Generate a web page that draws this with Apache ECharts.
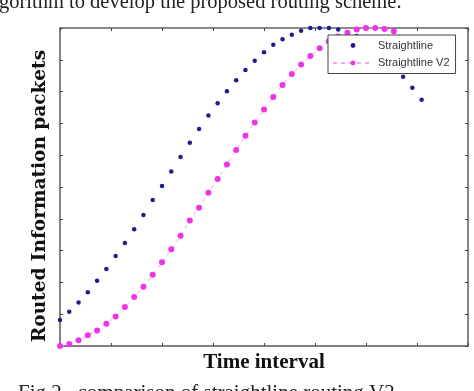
<!DOCTYPE html>
<html>
<head>
<meta charset="utf-8">
<script src="https://cdn.jsdelivr.net/npm/echarts@6/dist/echarts.min.js"></script>
<style>
    html, body { margin: 0; padding: 0; background: #fff; }
    #echart1 { width: 474px; height: 391px; }
</style>
</head>
<body>
<div id="echart1"></div>
<script>
// data (x = sample index, y = packets, axis 0..10)
let seriesNames = ['Straightline', 'Straightline V2']
let straightline = [
    0.82, 1.08, 1.37, 1.69, 2.05, 2.42, 2.83, 3.24, 3.67, 4.12,
    4.59, 5.03, 5.49, 5.94, 6.39, 6.82, 7.25, 7.63, 8.01, 8.36,
    8.68, 8.97, 9.24, 9.47, 9.65, 9.79, 9.91, 10.0, 10.0, 10.0,
    9.95, 9.86, 9.75, 9.58, 9.36, 9.09, 8.79, 8.47, 8.12, 7.74
]
let straightlineV2 = [
    0.0, 0.06, 0.18, 0.34, 0.49, 0.70, 0.93, 1.23, 1.54, 1.86,
    2.24, 2.63, 3.04, 3.47, 3.95, 4.35, 4.82, 5.25, 5.71, 6.16,
    6.61, 7.03, 7.44, 7.83, 8.21, 8.55, 8.85, 9.12, 9.36, 9.58,
    9.73, 9.85, 9.95, 10.0, 10.0, 9.97, 9.9
]
let topCaption = 'gorithm to develop the proposed routing scheme.'
let bottomCaption = 'Fig.2   comparison of straightline routing V2'

let chartDom = document.getElementById('echart1')
let myChart = echarts.init(chartDom, null, { renderer: 'canvas' })

let frameColor = '#5a5a5a'
let tickColor = '#444'

// grid
let grid = {
    top: 28,
    left: 60,
    right: 6,
    bottom: 45
}

let axisLine = { show: true, onZero: false, lineStyle: { color: frameColor, width: 1.5 } }
let axisTick = { show: true, inside: true, length: 3, lineStyle: { color: tickColor } }

// xAxis (bottom + top for the box)
let xAxis = [{
    type: 'value',
    min: 0,
    max: 44,
    interval: 5.5,
    position: 'bottom',
    name: 'Time interval',
    nameLocation: 'middle',
    nameGap: 6,
    nameTextStyle: {
        fontFamily: 'Liberation Serif',
        fontWeight: 'bold',
        fontSize: 21,
        color: '#111',
        verticalAlign: 'top'
    },
    axisLine,
    axisTick,
    axisLabel: { show: false },
    splitLine: { show: false }
}, {
    type: 'value',
    min: 0,
    max: 44,
    interval: 5.5,
    position: 'top',
    axisLine: { show: true, onZero: false, lineStyle: { color: '#8a8a8a', width: 2 } },
    axisTick,
    axisLabel: { show: false },
    splitLine: { show: false }
}]

// yAxis (left + right)
let yAxis = [{
    type: 'value',
    min: 0,
    max: 10,
    interval: 1,
    position: 'left',
    name: 'Routed Information packets',
    nameLocation: 'middle',
    nameGap: 10,
    nameTextStyle: {
        fontFamily: 'DejaVu Serif',
        fontWeight: 'bold',
        fontSize: 18.5,
        color: '#111',
        verticalAlign: 'bottom',
        padding: [0, 18, 0, 0]
    },
    axisLine,
    axisTick,
    axisLabel: { show: false },
    splitLine: { show: false }
}, {
    type: 'value',
    min: 0,
    max: 10,
    interval: 1,
    position: 'right',
    axisLine,
    axisTick,
    axisLabel: { show: false },
    splitLine: { show: false }
}]

// legend
let legend = {
    orient: 'vertical',
    left: 328,
    top: 35,
    backgroundColor: '#fff',
    borderColor: '#444',
    borderWidth: 1,
    borderRadius: 0,
    padding: [5, 6, 5, 4],
    itemWidth: 40,
    itemHeight: 6,
    itemGap: 6.5,
    textStyle: {
        fontFamily: 'Liberation Sans',
        fontSize: 11,
        color: '#333'
    },
    data: seriesNames
}

// series
let series = [{
    name: seriesNames[0],
    type: 'line',
    data: straightline.map((v, i) => [i, v]),
    symbol: 'circle',
    symbolSize: 4.5,
    clip: false,
    itemStyle: { color: '#1d1d8e' },
    lineStyle: { width: 0, opacity: 0 }
}, {
    name: seriesNames[1],
    type: 'line',
    data: straightlineV2.map((v, i) => [i, v]),
    symbol: 'circle',
    symbolSize: 6,
    clip: false,
    itemStyle: { color: '#ee33e8' },
    lineStyle: { width: 1, type: [4, 4], color: '#f2a6ee' }
}]

// captions around the figure
let graphic = [{
    type: 'text',
    x: -1,
    y: 13,
    style: {
        text: topCaption,
        font: '20.5px "Liberation Serif"',
        fill: '#222',
        verticalAlign: 'bottom'
    }
}, {
    type: 'text',
    x: 18,
    y: 383,
    style: {
        text: bottomCaption,
        font: '21px "Liberation Serif"',
        fill: '#222',
        verticalAlign: 'top'
    }
}]

// 渲染
const option = {
    animation: false,
    backgroundColor: '#fff',
    grid,
    xAxis,
    yAxis,
    legend,
    series,
    graphic
}
option && myChart.setOption(option)
</script>
</body>
</html>
